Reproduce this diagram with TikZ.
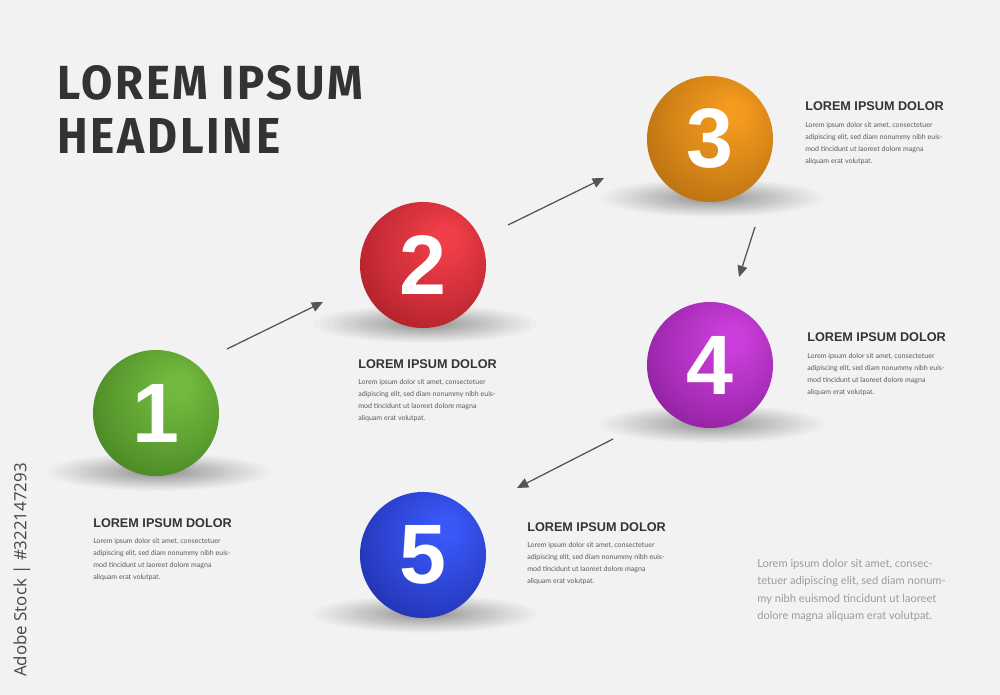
\documentclass[tikz,border=0pt]{standalone}
\usepackage{fontspec}
\usepackage{graphicx}
\usetikzlibrary{positioning, arrows.meta, shapes.geometric, fadings}
\setmainfont{Lato}
\newfontfamily\headfont{Fira Sans}[LetterSpace=6]
\newfontfamily\titlefont{Liberation Sans}
\newfontfamily\numfont{Liberation Sans}
\newfontfamily\stockfont{Open Sans}

\definecolor{bg}{RGB}{242,242,242}
\definecolor{ink}{RGB}{51,51,51}
\definecolor{bodyink}{RGB}{90,90,90}
\definecolor{softink}{RGB}{155,155,155}
\definecolor{arrowink}{RGB}{85,85,85}
\definecolor{greenhi}{RGB}{114,186,62}
\definecolor{greenlo}{RGB}{54,112,26}
\definecolor{redhi}{RGB}{240,62,72}
\definecolor{redlo}{RGB}{146,20,30}
\definecolor{orangehi}{RGB}{244,154,30}
\definecolor{orangelo}{RGB}{156,94,12}
\definecolor{purplehi}{RGB}{204,62,220}
\definecolor{purplelo}{RGB}{116,20,132}
\definecolor{bluehi}{RGB}{58,88,248}
\definecolor{bluelo}{RGB}{22,34,146}
\colorlet{ballhi}{white}
\colorlet{balllo}{black}

% sphere body and dark rim
\pgfdeclareradialshading[ballhi,balllo]{ballshade}{\pgfpoint{10bp}{12bp}}{color(0bp)=(ballhi); color(4bp)=(ballhi); color(22bp)=(ballhi!62!balllo); color(44bp)=(balllo); color(50bp)=(balllo)}
\pgfdeclareradialshading{rimshade}{\pgfpoint{0bp}{0bp}}{color(0bp)=(pgftransparent!100); color(38bp)=(pgftransparent!100); color(50bp)=(pgftransparent!55)}
\pgfdeclarefading{rimfade}{\pgfuseshading{rimshade}}

\newcommand{\lorembody}{Lorem ipsum dolor sit amet, consectetuer\\adipiscing elit, sed diam nonummy nibh euis-\\mod tincidunt ut laoreet dolore magna\\aliquam erat volutpat.}

\begin{document}
\begin{tikzpicture}[x=0.025cm, y=-0.025cm,
    sphere/.style 2 args={circle, minimum size=3.15cm, inner sep=0pt, text=white,
        font=\numfont\bfseries\fontsize{60}{60}\selectfont,
        /utils/exec={\colorlet{ballhi}{#1}\colorlet{balllo}{#2}},
        shading=ballshade,
        path picture={\fill[balllo, path fading=rimfade, fit fading=true]
            (path picture bounding box.south west) rectangle (path picture bounding box.north east);}},
    blur/.style={fill=black, opacity=0.02},
    headline/.style={anchor=north west, inner sep=0pt, text=ink, font=\headfont\bfseries},
    blocktitle/.style={anchor=base west, inner sep=0pt, text=ink, font=\titlefont\bfseries\fontsize{9}{9}\selectfont},
    blockbody/.style={anchor=north west, inner sep=0pt, align=left, text=bodyink, font=\fontsize{5}{8.5}\selectfont},
    flow/.style={draw=arrowink, line width=0.9pt, -{Triangle[length=8pt, width=7pt]}}]

\fill[bg] (0,0) rectangle (1000,695);
\useasboundingbox (0,0) rectangle (1000,695);

% headline
\node[headline] (head1) at (57,65) {\resizebox{7.65cm}{0.85cm}{LOREM IPSUM}};
\node[headline] (head2) at (57,118) {\resizebox{5.575cm}{0.875cm}{HEADLINE}};

% shadows, stacked soft ellipses
\foreach \cx/\cy in {158/472, 425/324, 712/198, 712/424, 425/614} {
    \foreach \k in {0,...,29} {
        \pgfmathsetmacro\f{(1-\k/30)^1.8}
        \fill[blur] (\cx,\cy) ellipse [x radius={112*\f}, y radius={19*\f}];
    }
}

% spheres
\node[sphere={greenhi}{greenlo}] (s1) at (156,413) {1};
\node[sphere={redhi}{redlo}] (s2) at (423,265) {2};
\node[sphere={orangehi}{orangelo}] (s3) at (710,139) {3};
\node[sphere={purplehi}{purplelo}] (s4) at (710,365) {4};
\node[sphere={bluehi}{bluelo}] (s5) at (423,555) {5};

% arrows
\coordinate (a1) at (227,349);
\coordinate (b1) at (323,302);
\coordinate (a2) at (508,225);
\coordinate (b2) at (604,178);
\coordinate (a3) at (755,227);
\coordinate (b3) at (739,277);
\coordinate (a4) at (613,439);
\coordinate (b4) at (517,488);
\draw[flow] (a1) -- (b1);
\draw[flow] (a2) -- (b2);
\draw[flow] (a3) -- (b3);
\draw[flow] (a4) -- (b4);

% text blocks
\node[blocktitle] (t1) at (93,527) {LOREM IPSUM DOLOR};
\node[blockbody] (p1) at (93,538) {\lorembody};
\node[blocktitle] (t2) at (358,368) {LOREM IPSUM DOLOR};
\node[blockbody] (p2) at (358,379) {\lorembody};
\node[blocktitle] (t3) at (805,111) {LOREM IPSUM DOLOR};
\node[blockbody] (p3) at (805,122) {\lorembody};
\node[blocktitle] (t4) at (807,342) {LOREM IPSUM DOLOR};
\node[blockbody] (p4) at (807,353) {\lorembody};
\node[blocktitle] (t5) at (527,531) {LOREM IPSUM DOLOR};
\node[blockbody] (p5) at (527,542) {\lorembody};
\node[blockbody, text=softink, font=\fontsize{7.9}{12.3}\selectfont] (note) at (757,559)
    {Lorem ipsum dolor sit amet, consec-\\tetuer adipiscing elit, sed diam nonum-\\my nibh euismod tincidunt ut laoreet\\dolore magna aliquam erat volutpat.};

% stock tag
\node[rotate=90, anchor=west, inner sep=0pt, text=ink!90, font=\stockfont\fontsize{12}{12}\selectfont] (stock) at (22,677) {Adobe Stock | \#322147293};
\end{tikzpicture}
\end{document}
